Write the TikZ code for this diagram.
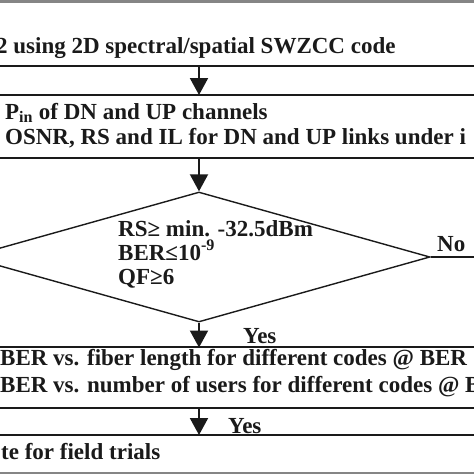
\documentclass[tikz,border=0pt]{standalone}
\usepackage{fontspec}
\setmainfont{Liberation Serif}
\usetikzlibrary{shapes.geometric,arrows.meta}
\definecolor{ink}{HTML}{1A1A1A}
\definecolor{barg}{HTML}{858585}
\tikzset{
  box/.style={draw=ink,line width=1.4pt,rectangle,minimum width=540pt,inner sep=0pt},
  txt/.style={anchor=base west,inner sep=0pt,text=ink,font=\fontsize{23}{27}\selectfont\bfseries},
  flow/.style={draw=ink,line width=2pt,-{Triangle[width=18pt,length=17pt]}},
  decision/.style={draw=ink,line width=1.4pt,diamond,minimum width=462pt,minimum height=130pt,inner sep=0pt},
}
\begin{document}
\begin{tikzpicture}[x=1pt,y=-1pt]
\useasboundingbox (0,0) rectangle (474,474);
\clip (0,0) rectangle (474,474);
\fill[white] (0,0) rectangle (474,474);
% boxes
\node[box,minimum height=106pt] (b1) at (237,13) {};
\node[box,minimum height=63pt] (b2) at (237,126.5) {};
\node[decision] (d) at (199,257) {};
\node[box,minimum height=61pt] (b3) at (237,377.5) {};
\node[box,minimum height=80pt] (b4) at (237,475) {};
\coordinate (noend) at (480,257);
% connectors
\draw[flow] (199,66) -- (199,95);
\draw[flow] (199,158) -- (d.north);
\draw[flow] (d.south) -- (199,347.5);
\draw[flow] (199,408) -- (199,435);
\draw[draw=ink,line width=2pt] (d.east) -- (noend);
% texts
\node[txt] (t1) at (-4,53) {2 using 2D spectral/spatial SWZCC code};
\node[txt] (t2) at (5,119) {P\textsubscript{in} of DN and UP channels};
\node[txt] (t3) at (5,144) {OSNR, RS and IL for DN and UP links under i};
\node[txt] (t4) at (118,236) {RS≥ min. -32.5dBm};
\node[txt] (t5) at (118,260) {BER≤10\textsuperscript{-9}};
\node[txt] (t6) at (118,284) {QF≥6};
\node[txt] (no) at (437,251) {No};
\node[txt] (y1) at (243,343) {Yes};
\node[txt] (t7) at (0,365) {BER vs. fiber length for different codes @ BER};
\node[txt] (t8) at (0,392) {BER vs. number of users for different codes @ B};
\node[txt] (y2) at (228,433) {Yes};
\node[txt] (t9) at (1,459) {te for field trials};
% grey bars
\fill[barg] (0,0) rectangle (474,2.5);
\fill[barg] (0,472) rectangle (474,474);
\end{tikzpicture}
\end{document}
